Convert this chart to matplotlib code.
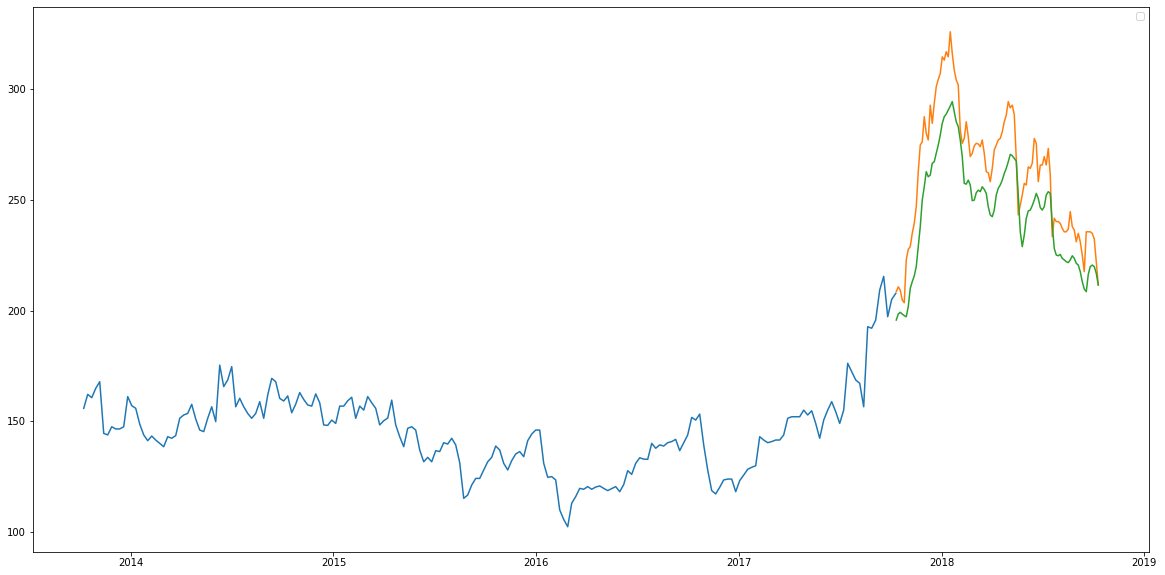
import matplotlib
matplotlib.use("Agg")
import matplotlib.pyplot as plt
import pandas as pd

# training close prices, Oct 2013 - Oct 2017 (~weekly)
train_close = [
    155.9, 162.2, 160.7, 164.9, 167.9, 144.6, 143.9, 147.6, 146.6, 146.6,
    147.6, 161.2, 157.1, 155.9, 148.8, 143.9, 141.3, 143.4, 141.6, 140.1,
    138.6, 143.1, 142.4, 143.6, 151.4, 152.9, 153.6, 157.7, 151.1, 146.1,
    145.4, 151.4, 156.6, 149.9, 175.4, 165.7, 168.7, 174.7, 156.6, 160.4,
    156.6, 153.6, 151.4, 153.6, 158.9, 151.4, 161.9, 169.4, 167.9, 160.4,
    159.2,
    161.5, 153.9, 157.8, 163.0, 159.9, 157.4, 156.9, 162.4, 158.4, 148.4,
    148.2, 150.6, 149.1, 156.9, 156.9, 159.3, 160.9, 151.4, 156.9, 155.1,
    161.2, 158.4, 155.9, 148.4, 150.3, 151.5, 159.6, 148.4, 143.1, 138.6,
    146.9, 147.6, 146.1, 137.1, 131.8, 133.8, 131.8, 136.8, 136.4, 140.4,
    139.8, 142.4, 139.4, 131.4, 115.3, 116.8, 121.3, 124.3, 124.3, 128.1,
    131.8,
    133.8, 138.9, 137.1, 131.1, 128.1, 132.3, 135.3, 136.4, 134.1, 141.3,
    144.3, 146.1, 146.1, 131.1, 124.8, 125.1, 123.6, 110.1, 105.8, 102.5,
    113.1, 116.1, 119.8, 119.4, 120.6, 119.4, 120.4, 120.9, 119.8, 118.8,
    119.7, 120.6, 118.3, 121.5, 127.8, 126.1, 131.1, 133.6, 133.0, 132.9,
    140.1, 137.9, 139.4, 138.9, 140.4, 140.9, 141.9, 136.8, 140.4, 143.9,
    151.8, 150.6, 153.3,
    139.4, 128.1, 118.8, 117.3, 120.3, 123.6, 124.0, 124.0, 118.3, 123.3,
    125.8, 128.4, 129.3, 130.0, 143.1, 141.6, 140.4, 140.9, 141.6, 141.6,
    143.9, 151.4, 152.1, 152.1, 152.1, 155.1, 152.9, 154.8, 149.1, 142.4,
    150.6, 155.1, 158.9, 154.4, 149.1, 155.1, 176.2, 172.4, 168.7, 167.2,
    156.6, 192.7, 192.0, 195.7, 209.2, 215.4, 197.2, 205.0, 207.7,
]

# test period, Oct 2017 - Oct 2018
valid_close = [
    208.5, 210.7, 209.2, 204.7, 203.5, 222.8, 227.6, 228.8, 234.8, 239.3,
    246.8, 262.6, 274.6, 276.1, 287.4, 279.9, 276.9, 292.6, 284.4, 293.4,
    300.9, 304.2, 306.9, 314.4, 312.9, 316.7, 314.4, 325.7, 315.9, 308.4,
    303.9, 301.7, 281.4, 275.4, 277.6, 285.1, 278.4, 269.4, 270.9, 274.2,
    275.4, 275.1, 273.9, 276.9, 270.9, 262.6, 262.1, 258.1, 264.1, 272.4,
    274.6, 276.9, 277.6, 280.6, 285.1, 288.1, 294.2, 291.4, 292.6, 288.4,
    268.6, 243.1, 247.6, 252.1, 257.3, 256.6, 264.8, 264.1, 266.4, 277.6,
    275.4, 258.1, 265.6, 265.6, 269.4, 265.6, 273.1, 261.1, 233.3, 241.6,
    240.1, 240.1, 239.3, 237.0, 235.5, 235.5, 236.7, 244.6, 237.8, 236.3,
    231.0, 234.8, 231.0, 225.0, 217.5, 235.5, 235.5, 235.5, 234.8, 232.2,
    222.0, 211.5,
]

predictions = [
    195.7, 198.4, 199.2, 198.4, 197.7, 197.2, 201.7, 210.0, 213.0, 215.6,
    219.8, 228.8, 237.8, 249.8, 255.8, 262.6, 260.3, 261.1, 266.4, 267.1,
    270.9, 274.6, 279.1, 284.4, 287.4, 288.6, 290.4, 292.2, 294.2, 289.6,
    285.1, 282.9, 276.9, 269.4, 257.3, 257.0, 258.8, 256.6, 249.5, 249.8,
    253.1, 254.3, 253.6, 255.8, 254.6, 252.8, 246.8, 243.1, 242.3, 245.3,
    252.1, 255.1, 256.6, 258.8, 261.8, 264.1, 267.1, 270.4, 269.8, 268.6,
    267.4, 252.1, 235.5, 228.8, 234.0, 241.6, 244.9, 245.3, 247.3, 249.8,
    252.8, 250.6, 246.4, 245.3, 246.8, 252.1, 253.6, 252.8, 238.6, 228.0,
    225.0, 224.7, 225.3, 223.5, 222.8, 222.0, 221.6, 222.8, 224.7, 223.5,
    221.3, 220.5, 217.5, 213.0, 209.7, 208.5, 216.3, 219.8, 220.5, 219.8,
    216.8, 211.5,
]

train_dates = pd.date_range("2013-10-08", "2017-10-10", periods=len(train_close))
valid_dates = pd.date_range("2017-10-11", "2018-10-10", periods=len(valid_close))

fig = plt.figure(figsize=(1165 / 72, 575 / 72), dpi=72)
ax = fig.add_axes([33 / 1165, 23.5 / 575, 1116 / 1165, 544.5 / 575])

ax.plot(train_dates, train_close)
ax.plot(valid_dates, valid_close)
ax.plot(valid_dates, predictions)
ax.legend()  # no labels -> empty box, as in the original

fig.savefig("out.png", dpi=72)
